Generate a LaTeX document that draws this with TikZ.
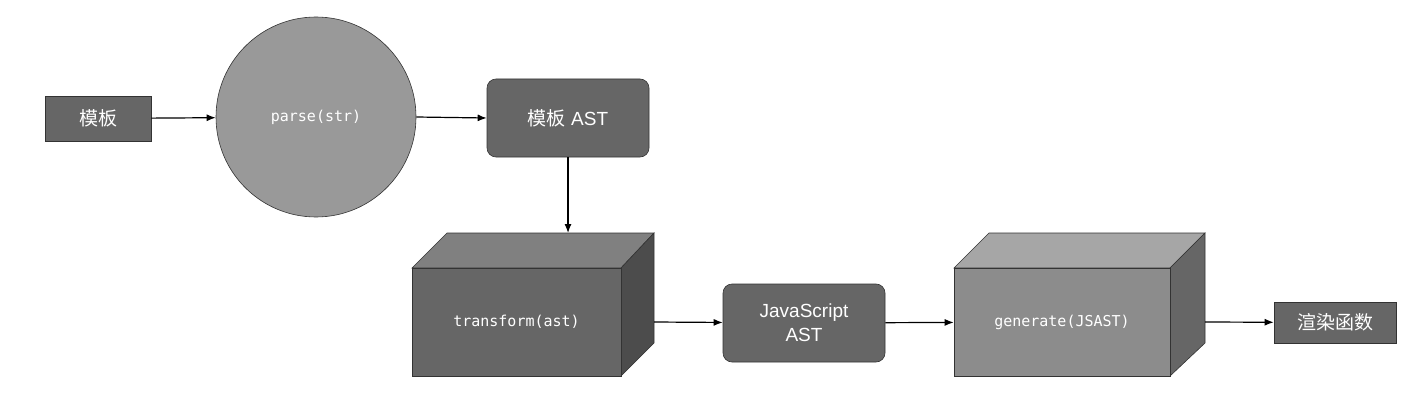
\documentclass[tikz,border=0pt]{standalone}
\usepackage{fontspec}
\setmainfont{Liberation Sans}
\newfontfamily\cjk{Noto Sans CJK SC}
\newfontfamily\codef{DejaVu Sans Mono}
\usetikzlibrary{arrows.meta}
\begin{document}
\begin{tikzpicture}[x=1pt,y=-1pt,
  box/.style={draw=black!80,line width=0.6pt,fill=black!60,text=white,font=\fontsize{19}{22}\selectfont,inner sep=0pt},
  code/.style={text=white,font=\codef\fontsize{15}{18}\selectfont},
  arr/.style={-{Latex[length=9pt,width=7pt]},line width=1.2pt}]
\useasboundingbox (0,0) rectangle (1420,409);
\node[box,minimum width=106pt,minimum height=45pt] (tpl) at (98,118.5) {\cjk 模板};
\node[circle,draw=black!80,line width=0.6pt,fill=black!40,minimum size=200pt,code] (parse) at (316,117) {parse(str)};
\node[box,rounded corners=9pt,minimum width=162pt,minimum height=78pt] (ast) at (568,118) {{\cjk 模板} AST};
% cube 1
\fill[black!50,draw=black!80,line width=0.6pt] (412,268) -- (447,233) -- (654,233) -- (621,268) -- cycle;
\fill[black!70,draw=black!80,line width=0.6pt] (621,268) -- (654,233) -- (654,343) -- (621,376) -- cycle;
\node[box,minimum width=209pt,minimum height=108pt,code] (tr) at (516.5,322) {transform(ast)};
\coordinate (trtop) at (568,233);
\coordinate (trR) at (654,322);
\node[box,rounded corners=9pt,minimum width=162pt,minimum height=78pt,align=center,font=\fontsize{19}{24}\selectfont] (js) at (804,323) {JavaScript\\AST};
% cube 2
\fill[black!35,draw=black!80,line width=0.6pt] (954,268) -- (989,233) -- (1205,233) -- (1170,268) -- cycle;
\fill[black!60,draw=black!80,line width=0.6pt] (1170,268) -- (1205,233) -- (1205,343) -- (1170,376) -- cycle;
\node[box,fill=black!45,minimum width=216pt,minimum height=108pt,code] (gen) at (1062,322) {generate(JSAST)};
\coordinate (genR) at (1205,322);
\node[box,minimum width=122pt,minimum height=41pt] (out) at (1335,322.5) {\cjk 渲染函数};
\draw[arr] (tpl) -- (parse);
\draw[arr] (parse.east) -- (ast.west);
\draw[arr] (ast) -- (trtop);
\draw[arr] (trR) -- (js);
\draw[arr] (js) -- (gen);
\draw[arr] (genR) -- (out);
\end{tikzpicture}
\end{document}
